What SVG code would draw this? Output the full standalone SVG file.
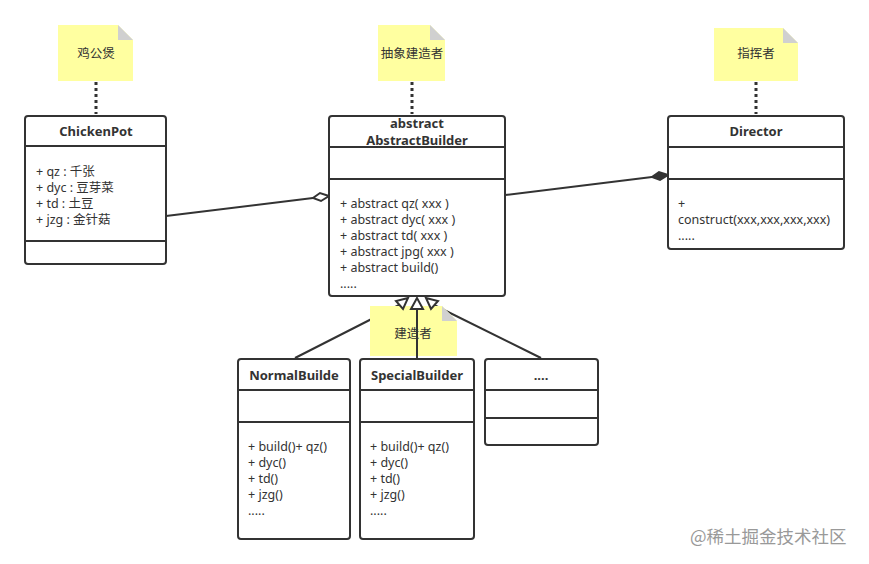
<svg xmlns="http://www.w3.org/2000/svg" width="869" height="564" viewBox="0 0 869 564">
<style>
.n{fill:#ffffa0}.f{fill:#d0d0d0}
.b{fill:#fff;stroke:#333;stroke-width:2}
.l{stroke:#333;stroke-width:2}
.t{font-family:"Noto Sans","Noto Sans CJK SC",sans-serif;font-size:12.5px;fill:#333}
.h{font-family:"Noto Sans",sans-serif;font-size:13px;font-weight:bold;fill:#333;text-anchor:middle}
.c{text-anchor:middle}
.d{stroke:#333;stroke-width:3;stroke-dasharray:3,3}
</style>
<rect width="869" height="564" fill="#fff"/>
<g id="note1"><path class="n" d="M58 25H118L133 40V81H58Z"/><path class="f" d="M118 25L133 40H118Z"/><text class="t c" x="96" y="58">鸡公煲</text></g>
<g id="note2"><path class="n" d="M378 25H430L445 40V81H378Z"/><path class="f" d="M430 25L445 40H430Z"/><text class="t c" x="412" y="58">抽象建造者</text></g>
<g id="note3"><path class="n" d="M714 28H783L798 43V81H714Z"/><path class="f" d="M783 28L798 43H783Z"/><text class="t c" x="756" y="58">指挥者</text></g>
<g id="connectors" fill="none">
<path class="d" d="M96 82V114M412 82V114M756 82V114"/>
<path class="l" d="M166 216L313 198"/><path class="l" fill="#fff" d="M329 196L320 193L313 198L321 201Z"/>
<path class="l" d="M505 195L652 177"/><path fill="#333" stroke="#333" stroke-width="2" d="M668 175L659 172L652 177L660 180Z"/>
<path class="l" d="M295 358L403 303M417 358V310M541 358L430 303"/>
</g>
<g id="note4"><path class="n" d="M370 306H442L457 321V356H370Z"/><path class="f" d="M442 306L457 321H442Z"/><text class="t c" x="413" y="338">建造者</text></g>
<g id="arrows" fill="#fff" stroke="#333" stroke-width="2">
<path d="M408 298L396 301L403 309Z"/><path d="M417 298L411 309H423Z"/><path d="M426 298L431 309L438 301Z"/>
<path class="l" d="M417 358V310"/>
</g>
<g id="ChickenPot"><rect class="b" x="25" y="116" width="141" height="148" rx="3"/><path class="l" d="M25 146H166M25 241H166"/><text class="h" x="96" y="136">ChickenPot</text>
<text class="t" x="36" y="176">+ qz : 千张</text><text class="t" x="36" y="192">+ dyc : 豆芽菜</text><text class="t" x="36" y="208">+ td : 土豆</text><text class="t" x="36" y="224">+ jzg : 金针菇</text></g>
<g id="AbstractBuilder"><rect class="b" x="329" y="116" width="176" height="180" rx="3"/><path class="l" d="M329 147H505M329 179H505"/><text class="h" x="417" y="128" font-size="12">abstract</text><text class="h" x="417" y="145" font-size="12.5">AbstractBuilder</text>
<text class="t" x="340" y="208">+ abstract qz( xxx )</text><text class="t" x="340" y="224">+ abstract dyc( xxx )</text><text class="t" x="340" y="240">+ abstract td( xxx )</text><text class="t" x="340" y="256">+ abstract jpg( xxx )</text><text class="t" x="340" y="272">+ abstract build()</text><text class="t" x="340" y="288">.....</text></g>
<g id="Director"><rect class="b" x="668" y="116" width="176" height="133" rx="3"/><path class="l" d="M668 147H844M668 179H844"/><text class="h" x="756" y="136">Director</text>
<text class="t" x="678" y="208">+</text><text class="t" x="678" y="224">construct(xxx,xxx,xxx,xxx)</text><text class="t" x="678" y="240">.....</text></g>
<g id="NormalBuilde"><rect class="b" x="238" y="359" width="112" height="180" rx="3"/><path class="l" d="M238 390H350M238 422H350"/><text class="h" x="294" y="380">NormalBuilde</text>
<text class="t" x="248" y="451">+ build()+ qz()</text><text class="t" x="248" y="467">+ dyc()</text><text class="t" x="248" y="483">+ td()</text><text class="t" x="248" y="499">+ jzg()</text><text class="t" x="248" y="515">.....</text></g>
<g id="SpecialBuilder"><rect class="b" x="360" y="359" width="114" height="180" rx="3"/><path class="l" d="M360 390H474M360 422H474"/><text class="h" x="417" y="380">SpecialBuilder</text>
<text class="t" x="370" y="451">+ build()+ qz()</text><text class="t" x="370" y="467">+ dyc()</text><text class="t" x="370" y="483">+ td()</text><text class="t" x="370" y="499">+ jzg()</text><text class="t" x="370" y="515">.....</text></g>
<g id="More"><rect class="b" x="485" y="359" width="113" height="86" rx="3"/><path class="l" d="M485 390H598M485 418H598"/><text class="h" x="541" y="380">....</text></g>
<text x="690" y="543" font-family="Noto Sans CJK SC,sans-serif" font-size="17.5" fill="#999">@稀土掘金技术社区</text>
</svg>
